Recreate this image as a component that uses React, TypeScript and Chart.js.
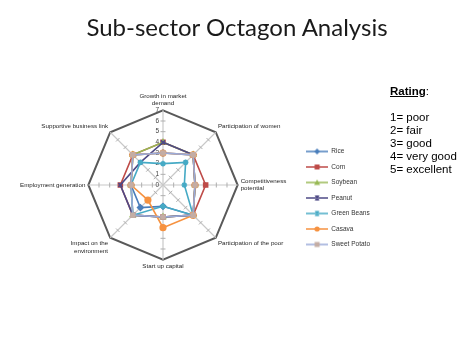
import React, { useEffect, useRef } from 'react';
import { Chart, registerables } from 'chart.js';

Chart.register(...registerables);

const axisLabels: (string | string[])[] = [
  ['Growth in market', 'demand'],
  'Participation of women',
  ['Competitiveness', 'potential'],
  'Participation of the poor',
  'Start up capital',
  ['Impact on the', 'environment'],
  'Employment generation',
  'Supportive business link',
];

const seriesNames = ['Rice', 'Corn', 'Soybean', 'Peanut', 'Green Beans', 'Casava', 'Sweet Potato'];
const rice = [3, 4, 3, 4, 2, 3, 3, 4];
const corn = [4, 4, 4, 4, 3, 4, 4, 4];
const soybean = [4, 4, 3, 4, 3, 4, 3, 4];
const peanut = [4, 4, 3, 4, 3, 4, 4, 3];
const greenBeans = [2, 3, 2, 4, 2, 4, 3, 3];
const casava = [3, 4, 3, 4, 4, 2, 3, 4];
const sweetPotato = [3, 4, 3, 4, 3, 4, 3, 4];
const seriesValues = [rice, corn, soybean, peanut, greenBeans, casava, sweetPotato];

const tickValues = [0, 1, 2, 3, 4, 5, 6, 7];
const titleText = 'Sub-sector Octagon Analysis';
const ratingHeading = 'Rating';
const ratingLines = ['1= poor', '2= fair', '3= good', '4= very good', '5= excellent'];

const lineColors = ['#4A7EBB', '#BE4B48', '#98B954', '#4E4A86', '#46AAC5', '#F69240', '#9AAAD8'];
const markerFill = ['#4A7EBB', '#BE4B48', '#98B954', '#4E4A86', '#46AAC5', '#F69240', '#C4ADA4'];
const markerStyles: any[] = ['rectRot', 'rect', 'triangle', 'crossRot', 'star', 'circle', 'rect'];

const FONT = '"Liberation Sans", Arial, sans-serif';

function makeLegendIcon(i: number): HTMLCanvasElement {
  const c = document.createElement('canvas');
  c.width = 22;
  c.height = 8;
  const g = c.getContext('2d')!;
  g.strokeStyle = lineColors[i];
  g.lineWidth = 1.5;
  g.beginPath();
  g.moveTo(0, 4);
  g.lineTo(22, 4);
  g.stroke();
  g.fillStyle = markerFill[i];
  g.strokeStyle = lineColors[i];
  const s = markerStyles[i];
  if (s === 'rect') g.fillRect(8.5, 1.5, 5, 5);
  else if (s === 'rectRot') { g.beginPath(); g.moveTo(11, 1); g.lineTo(14, 4); g.lineTo(11, 7); g.lineTo(8, 4); g.closePath(); g.fill(); }
  else if (s === 'triangle') { g.beginPath(); g.moveTo(11, 1); g.lineTo(14, 6.5); g.lineTo(8, 6.5); g.closePath(); g.fill(); }
  else if (s === 'circle') { g.beginPath(); g.arc(11, 4, 2.6, 0, Math.PI * 2); g.fill(); }
  else { g.lineWidth = 1.2; g.beginPath(); g.moveTo(9, 1.5); g.lineTo(13, 6.5); g.moveTo(13, 1.5); g.lineTo(9, 6.5); g.moveTo(11, 1); g.lineTo(11, 7); g.stroke(); }
  return c;
}

const decorPlugin = {
  id: 'decor',
  beforeDatasetsDraw(chart: any) {
    const s = chart.scales.r;
    const ctx = chart.ctx;
    ctx.save();
    ctx.strokeStyle = '#AFAFAF';
    ctx.lineWidth = 1;
    const n = chart.data.labels.length;
    for (let i = 0; i < n; i++) {
      const angle = s.getIndexAngle(i) - Math.PI / 2;
      const px = -Math.sin(angle);
      const py = Math.cos(angle);
      for (const v of tickValues) {
        if (v === 0 || v === tickValues[tickValues.length - 1]) continue;
        const p = s.getPointPositionForValue(i, v);
        ctx.beginPath();
        ctx.moveTo(p.x - px * 2.5, p.y - py * 2.5);
        ctx.lineTo(p.x + px * 2.5, p.y + py * 2.5);
        ctx.stroke();
      }
    }
    ctx.fillStyle = '#404040';
    ctx.font = '6.5px ' + FONT;
    ctx.textAlign = 'right';
    ctx.textBaseline = 'middle';
    for (const v of tickValues) {
      const p = s.getPointPositionForValue(0, v);
      ctx.fillText(String(v), p.x - 4, p.y);
    }
    ctx.restore();
  },
};

export default function App() {
  const ref = useRef<HTMLCanvasElement>(null);
  useEffect(() => {
    const icons = seriesNames.map((_, i) => makeLegendIcon(i));
    const chart = new Chart(ref.current!, {
      type: 'radar',
      data: {
        labels: axisLabels as any,
        datasets: seriesNames.map((name, i) => ({
          label: name,
          data: seriesValues[i],
          borderColor: lineColors[i],
          backgroundColor: markerFill[i],
          pointBackgroundColor: markerFill[i],
          pointBorderColor: markerFill[i],
          pointStyle: markerStyles[i],
          pointRadius: 2.8,
          borderWidth: 1.6,
          fill: false,
          order: seriesNames.length - i,
        })),
      },
      options: {
        animation: false,
        responsive: true,
        maintainAspectRatio: false,
        layout: { padding: { left: 11, right: 94, top: 84, bottom: 76 } },
        plugins: {
          legend: {
            position: 'right',
            align: 'start',
            title: { display: true, text: ' ', font: { size: 1 }, padding: { top: 54, bottom: 0 } },
            labels: {
              usePointStyle: true,
              pointStyleWidth: 22,
              padding: 9,
              color: '#333333',
              font: { family: FONT, size: 6.5 },
              generateLabels: () =>
                seriesNames.map((name, i) => ({
                  text: name,
                  pointStyle: icons[i] as any,
                  fillStyle: lineColors[i],
                  strokeStyle: lineColors[i],
                  lineWidth: 0,
                  hidden: false,
                  datasetIndex: i,
                  fontColor: '#333333',
                })),
            },
          },
          tooltip: { enabled: false },
        },
        scales: {
          r: {
            min: 0,
            max: 7,
            ticks: { stepSize: 1, display: false },
            grid: {
              color: (c: any) => (c.tick && c.tick.value === 7 ? '#595959' : 'rgba(0,0,0,0)'),
              lineWidth: (c: any) => (c.tick && c.tick.value === 7 ? 2 : 0),
            },
            angleLines: { color: '#C8C8C8', lineWidth: 1.2 },
            pointLabels: {
              color: '#262626',
              font: { family: FONT, size: 6.2 },
              padding: 3,
            },
          },
        },
      },
      plugins: [decorPlugin],
    });
    return () => chart.destroy();
  }, []);

  return (
    <div style={{ position: 'absolute', left: 0, top: 0, width: 474, height: 355, background: '#fff' }}>
      <div
        style={{
          position: 'absolute',
          left: 0,
          top: 11,
          width: 474,
          textAlign: 'center',
          fontFamily: 'Lato, sans-serif',
          fontSize: 24,
          lineHeight: '32px',
          color: '#1a1a1a',
        }}
      >
        {titleText}
      </div>
      <canvas ref={ref} />
      <div
        style={{
          position: 'absolute',
          left: 390,
          top: 85,
          fontFamily: FONT,
          fontSize: 11.5,
          lineHeight: '13px',
          color: '#000',
        }}
      >
        <div>
          <span style={{ fontWeight: 'bold', textDecoration: 'underline' }}>{ratingHeading}</span>:
        </div>
        <div style={{ height: 13 }} />
        {ratingLines.map((t) => (
          <div key={t}>{t}</div>
        ))}
      </div>
    </div>
  );
}
